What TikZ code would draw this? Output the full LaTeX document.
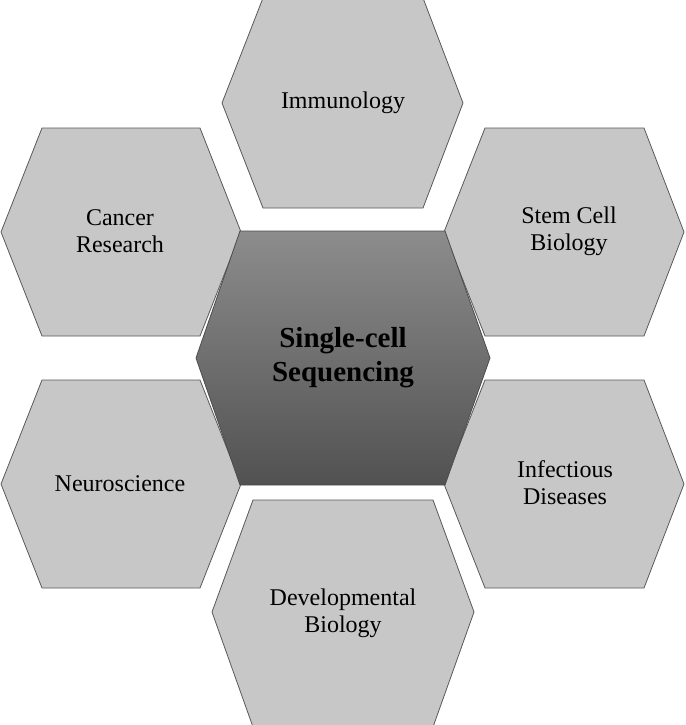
\documentclass[tikz,border=0pt]{standalone}
\usepackage{fontspec}
\setmainfont{Liberation Serif}
\begin{document}
\begin{tikzpicture}[x=1pt,y=-1pt,
  outer/.style={fill=black!22,draw=black!65,line width=0.8pt},
  lbl/.style={align=center,font=\fontsize{24}{27}\selectfont}]
\useasboundingbox (0,0) rectangle (685,725);
\begin{scope}
\clip (0,0) rectangle (685,725);
% top
\draw[outer] (263,-2)--(423,-2)--(463,103)--(423,208)--(263,208)--(222,103)--cycle;
\node[lbl] (imm) at (343,103) {Immunology};
% cancer
\draw[outer] (42,128)--(200,128)--(241,232)--(200,336)--(42,336)--(1,232)--cycle;
\node[lbl] (can) at (120,231) {Cancer\\Research};
% stem
\draw[outer] (485,128)--(644,128)--(684,232)--(644,336)--(485,336)--(444,232)--cycle;
\node[lbl] (stem) at (569,231) {Stem Cell\\Biology};
% neuro
\draw[outer] (42,380)--(200,380)--(241,484)--(200,588)--(42,588)--(1,484)--cycle;
\node[lbl] (neu) at (120,484) {Neuroscience};
% infectious
\draw[outer] (485,380)--(644,380)--(684,484)--(644,588)--(485,588)--(444,484)--cycle;
\node[lbl] (inf) at (565,483) {Infectious\\Diseases};
% developmental
\draw[outer] (253,500)--(433,500)--(474,612)--(433,727)--(253,727)--(212,612)--cycle;
\node[lbl] (dev) at (343,613) {Developmental\\Biology};
% center
\shade[top color=black!45,bottom color=black!68,draw=black!70,line width=0.8pt]
  (240,231)--(445,231)--(490,358)--(445,485)--(240,485)--(196,358)--cycle;
\node[lbl,font=\bfseries\fontsize{29}{34}\selectfont] (sc) at (343,358) {Single-cell\\Sequencing};
\end{scope}
\end{tikzpicture}
\end{document}
